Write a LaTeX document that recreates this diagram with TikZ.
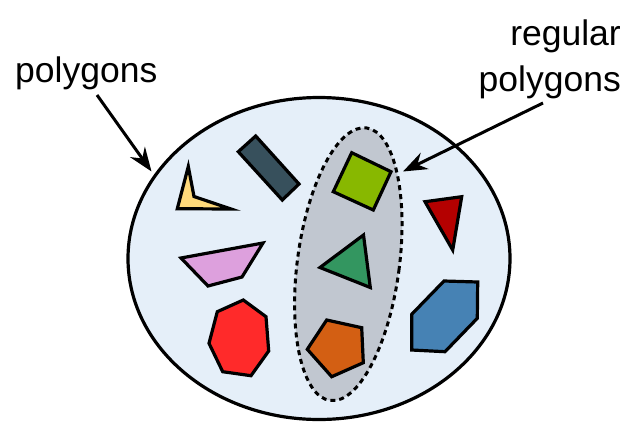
\documentclass[tikz,border=0pt]{standalone}
\usepackage{fontspec}
\setmainfont{Liberation Sans}
\usetikzlibrary{arrows.meta,shapes.geometric}
\definecolor{outerfill}{RGB}{229,239,249}
\definecolor{innerfill}{RGB}{193,199,208}
\definecolor{slate}{RGB}{55,80,92}
\definecolor{sand}{RGB}{255,217,122}
\definecolor{plumfill}{RGB}{221,160,221}
\definecolor{brightred}{RGB}{255,42,42}
\definecolor{orangefill}{RGB}{211,95,19}
\definecolor{limefill}{RGB}{136,184,0}
\definecolor{tealfill}{RGB}{51,150,96}
\definecolor{darkred}{RGB}{180,0,0}
\definecolor{bluefill}{RGB}{70,130,180}
\begin{document}
\begin{tikzpicture}[x=1pt,y=-1pt,
  poly/.style={draw=black, line width=3.2pt, line join=miter},
  lbl/.style={font=\fontsize{35.5}{46.5}\selectfont, inner sep=0pt},
  pointer/.style={line width=3pt, -{Stealth[length=24pt,width=18pt,inset=8pt]}}]
\useasboundingbox (0,0) rectangle (640,440);
% outer set
\node[ellipse, draw=black, line width=3.2pt, fill=outerfill, inner sep=0pt, outer sep=0pt,
      minimum width=382pt, minimum height=322pt] (outer) at (319,258.5) {};
% regular polygons subset
\node[ellipse, draw=black, line width=3pt, dash pattern=on 5pt off 4pt, fill=innerfill,
      inner sep=0pt, outer sep=0pt, rotate=-7.6,
      minimum width=102pt, minimum height=275pt] (reg) at (348.3,264.2) {};
% shapes
\draw[poly, fill=slate] (238.3,151.7) -- (255.7,136) -- (299,184) -- (282.3,200) -- cycle;
\draw[poly, fill=sand] (188.3,166.5) -- (194,196.5) -- (231,209) -- (177.3,208.7) -- cycle;
\draw[poly, fill=plumfill] (181,258) -- (263,243) -- (242,277) -- (208,286) -- cycle;
\draw[poly, fill=brightred] (243.3,300) -- (266,316.7) -- (268.7,351) -- (251,375.7) -- (222.7,371.7) -- (209,343.3) -- (217.3,311.7) -- cycle;
\draw[poly, fill=limefill] (351.7,152.7) -- (391,171.7) -- (373.3,210) -- (333.3,191.7) -- cycle;
\draw[poly, fill=tealfill] (363.5,235) -- (370.3,287.5) -- (320,267.5) -- cycle;
\draw[poly, fill=orangefill] (326.7,320) -- (361.7,327.7) -- (363.3,362.7) -- (331.7,376.7) -- (307.3,349.3) -- cycle;
\draw[poly, fill=darkred] (425,201.7) -- (461.7,196.7) -- (452.7,250) -- cycle;
\draw[poly, fill=bluefill] (444,281) -- (477.7,282) -- (477.3,318.3) -- (445,351.7) -- (411.7,350) -- (411.7,314.3) -- cycle;
% labels
\node[lbl, anchor=base west] (plabel) at (15,82) {polygons};
\node[lbl, anchor=base east, align=right] (rlabel) at (621,91.5) {regular\\polygons};
% pointers
\coordinate (p1s) at (97,95);
\coordinate (p1e) at (151.5,171.5);
\coordinate (p2s) at (543,103);
\coordinate (p2e) at (403,171.5);
\draw[pointer] (p1s) -- (p1e);
\draw[pointer] (p2s) -- (p2e);
\end{tikzpicture}
\end{document}
